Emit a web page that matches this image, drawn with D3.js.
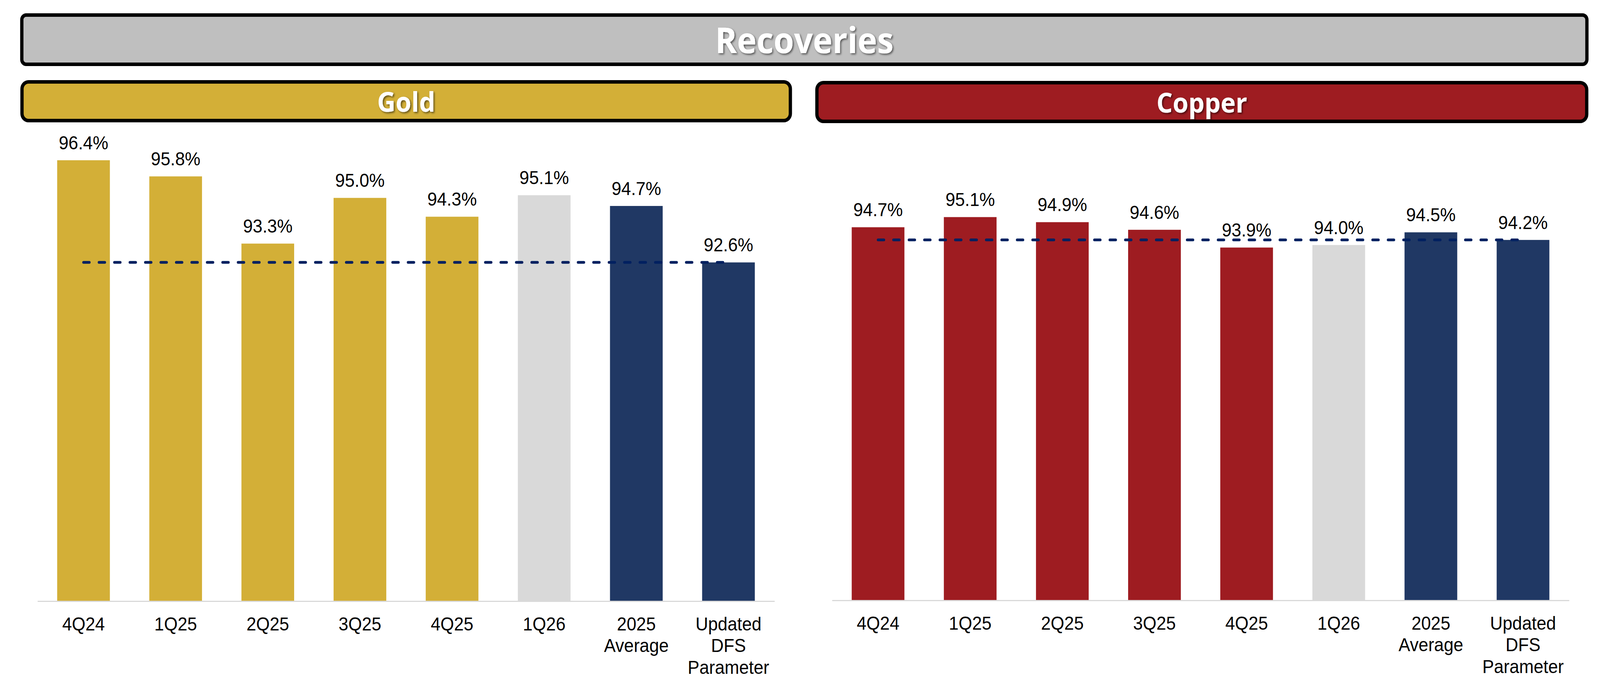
<!DOCTYPE html>
<html>
<head>
<meta charset="utf-8">
<script src="https://cdn.jsdelivr.net/npm/d3@7/dist/d3.min.js"></script>
<style>
  html, body { margin: 0; padding: 0; background: #ffffff; overflow: hidden; width: 100%; height: 100%; }
  svg { display: block; width: 100vw; height: 100vh; }
</style>
</head>
<body>
<svg id="chart" viewBox="0 0 4400 1773" preserveAspectRatio="none"></svg>
<script>
// ---------------- data ----------------
const categories = ["4Q24", "1Q25", "2Q25", "3Q25", "4Q25", "1Q26", "2025\nAverage", "Updated\nDFS\nParameter"];
const barKinds   = ["actual", "actual", "actual", "actual", "actual", "current", "average", "parameter"];
const goldValues   = [96.4, 95.8, 93.3, 95.0, 94.3, 95.1, 94.7, 92.6];
const copperValues = [94.7, 95.1, 94.9, 94.6, 93.9, 94.0, 94.5, 94.2];
const yDomain = [80, 100];
const mainTitle = "Recoveries";
const panelTitles = ["Gold", "Copper"];

// ---------------- styles ----------------
const FONT = "'Liberation Sans', Arial, sans-serif";
const HEAD_FONT = "'Open Sans', 'Noto Sans', sans-serif";
const kindColor = { actual: null, current: "#D9D9D9", average: "#203864", parameter: "#203864" };
const panelColors = ["#D3AF37", "#9E1C21"];

const svg = d3.select("#chart");

// drop shadow for header text
const defs = svg.append("defs");
const f = defs.append("filter").attr("id", "shadow").attr("x", "-10%").attr("y", "-20%").attr("width", "130%").attr("height", "150%");
f.append("feDropShadow").attr("dx", 3).attr("dy", 3).attr("stdDeviation", 2.5)
  .attr("flood-color", "#000").attr("flood-opacity", 0.55);

// ---------------- header boxes ----------------
function headerBox(x, y, w, h, r, fill, text, size, baseline) {
  svg.append("rect").attr("x", x).attr("y", y).attr("width", w).attr("height", h)
    .attr("rx", r).attr("ry", r).attr("fill", fill)
    .attr("stroke", "#000").attr("stroke-width", 9);
  svg.append("text").attr("x", x + w / 2).attr("y", baseline)
    .attr("text-anchor", "middle").attr("font-family", HEAD_FONT)
    .attr("font-weight", 700).attr("font-size", size).attr("fill", "#fff")
    .attr("filter", "url(#shadow)").text(text);
}
headerBox(60, 38.5, 4304, 126, 12, "#BFBFBF", mainTitle, 91, 136);
headerBox(60.5, 209.5, 2113, 99, 18, panelColors[0], panelTitles[0], 70, 286);
headerBox(2246.5, 211.5, 2117, 99, 18, panelColors[1], panelTitles[1], 70, 288);

// ---------------- panels ----------------
const panels = [
  { values: goldValues,   color: panelColors[0], x0: 103,  x1: 2130, base: 1538, top: 162.4 },
  { values: copperValues, color: panelColors[1], x0: 2288, x1: 4315, base: 1536, top: 237.2 }
];

panels.forEach(p => {
  const x = d3.scaleBand().domain(categories).range([p.x0, p.x1])
    .paddingInner(0.428).paddingOuter(0.214);
  const y = d3.scaleLinear().domain(yDomain).range([p.base, p.top]);
  const g = svg.append("g");

  // bars
  g.selectAll("rect.bar").data(p.values).join("rect")
    .attr("class", "bar")
    .attr("x", (d, i) => x(categories[i]))
    .attr("width", x.bandwidth())
    .attr("y", d => y(d))
    .attr("height", d => y(yDomain[0]) - y(d))
    .attr("fill", (d, i) => kindColor[barKinds[i]] || p.color);

  // value labels
  g.selectAll("text.val").data(p.values).join("text")
    .attr("class", "val")
    .attr("x", (d, i) => x(categories[i]) + x.bandwidth() / 2)
    .attr("y", d => y(d) - 28)
    .attr("text-anchor", "middle")
    .attr("font-family", FONT).attr("font-size", 48).attr("fill", "#000")
    .text(d => d.toFixed(1) + "%");

  // dashed reference line at DFS parameter value
  const ref = p.values[p.values.length - 1];
  g.append("line")
    .attr("x1", x(categories[0]) + x.bandwidth() / 2)
    .attr("x2", x(categories[categories.length - 1]) + x.bandwidth() / 2)
    .attr("y1", y(ref)).attr("y2", y(ref))
    .attr("stroke", "#002060").attr("stroke-width", 7)
    .attr("stroke-linecap", "round").attr("stroke-dasharray", "16 26.5");

  // x axis
  const ax = g.append("g").attr("transform", `translate(0,${p.base})`)
    .call(d3.axisBottom(x).tickSize(0).tickSizeOuter(0).tickPadding(0));
  ax.select(".domain").attr("stroke", "#D9D9D9").attr("stroke-width", 3);
  ax.selectAll(".tick text").each(function(d) {
    const t = d3.select(this);
    t.text(null).attr("y", 0).attr("dy", null)
      .attr("font-family", FONT).attr("font-size", 48).attr("fill", "#000");
    d.split("\n").forEach((line, i) => {
      t.append("tspan").attr("x", 0).attr("y", 75 + i * 55.5).text(line);
    });
  });
  ax.attr("font-family", FONT);
});
</script>
</body>
</html>
